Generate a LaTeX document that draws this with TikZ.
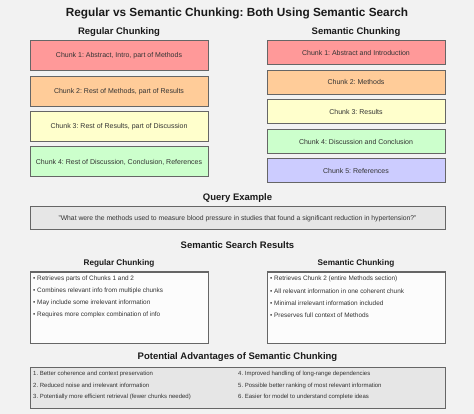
\documentclass[tikz,border=0pt]{standalone}
\usepackage{fontspec}
\setmainfont{Liberation Sans}
\definecolor{bg}{HTML}{F2F2F2}
\definecolor{bordc}{HTML}{666666}
\definecolor{txt}{HTML}{333333}
\definecolor{hdr}{HTML}{1A1A1A}
\definecolor{cred}{HTML}{FF9999}
\definecolor{corange}{HTML}{FFCC99}
\definecolor{cyellow}{HTML}{FFFFCC}
\definecolor{cgreen}{HTML}{CCFFCC}
\definecolor{cpurple}{HTML}{CCCCFF}
\definecolor{qfill}{HTML}{E6E6E6}
\definecolor{rfill}{HTML}{FCFCFC}
\frenchspacing
\begin{document}
\begin{tikzpicture}[x=1pt,y=-1pt,
  titletext/.style={font=\fontsize{11.8}{14}\selectfont\bfseries, text=hdr},
  headtext/.style={font=\fontsize{9.5}{11}\selectfont\bfseries, text=hdr},
  subhead/.style={font=\fontsize{8.2}{10}\selectfont\bfseries, text=hdr},
  chunkl/.style={draw=bordc, line width=1pt, minimum width=178pt, minimum height=30pt, inner sep=0pt, font=\fontsize{7}{8}\selectfont, text=txt},
  chunkr/.style={draw=bordc, line width=1pt, minimum width=178pt, minimum height=24pt, inner sep=0pt, font=\fontsize{7}{8}\selectfont, text=txt},
  resbox/.style={draw=bordc, line width=1pt, fill=rfill, minimum width=178pt, minimum height=71pt, inner sep=0pt},
  bullettext/.style={anchor=west, inner sep=0pt, font=\fontsize{6.4}{7.5}\selectfont, text=txt},
  advtext/.style={anchor=west, inner sep=0pt, font=\fontsize{6}{7}\selectfont, text=txt}]
\useasboundingbox[fill=bg] (0,0) rectangle (474,414);

\node[titletext] (title) at (237,13) {Regular vs Semantic Chunking: Both Using Semantic Search};

\node[headtext] (hreg) at (119,32) {Regular Chunking};
\node[headtext] (hsem) at (356,32) {Semantic Chunking};

\node[chunkl, fill=cred] (l1) at (119,56) {Chunk 1: Abstract, Intro, part of Methods};
\node[chunkl, fill=corange] (l2) at (119,91.5) {Chunk 2: Rest of Methods, part of Results};
\node[chunkl, fill=cyellow] (l3) at (119,127) {Chunk 3: Rest of Results, part of Discussion};
\node[chunkl, fill=cgreen] (l4) at (119,162) {Chunk 4: Rest of Discussion, Conclusion, References};

\node[chunkr, fill=cred] (r1) at (356,53) {Chunk 1: Abstract and Introduction};
\node[chunkr, fill=corange] (r2) at (356,82.5) {Chunk 2: Methods};
\node[chunkr, fill=cyellow] (r3) at (356,112) {Chunk 3: Results};
\node[chunkr, fill=cgreen] (r4) at (356,141.5) {Chunk 4: Discussion and Conclusion};
\node[chunkr, fill=cpurple] (r5) at (356,171) {Chunk 5: References};

\node[headtext] (hquery) at (237.5,198) {Query Example};
\node[draw=bordc, line width=1pt, fill=qfill, minimum width=415pt, minimum height=23pt, inner sep=0pt, font=\fontsize{6.8}{8}\selectfont, text=txt] (query) at (237.5,218.5) {"What were the methods used to measure blood pressure in studies that found a significant reduction in hypertension?"};

\node[headtext] (hres) at (237.5,245) {Semantic Search Results};
\node[subhead] (sreg) at (119,263) {Regular Chunking};
\node[subhead] (ssem) at (356,263) {Semantic Chunking};

\node[resbox] (resl) at (119,307.5) {};
\node[resbox] (resr) at (356,307.5) {};

\node[bullettext] (bl1) at (33,279) {• Retrieves parts of Chunks 1 and 2};
\node[bullettext] (bl2) at (33,291) {• Combines relevant info from multiple chunks};
\node[bullettext] (bl3) at (33,303) {• May include some irrelevant information};
\node[bullettext] (bl4) at (33,315) {• Requires more complex combination of info};

\node[bullettext] (br1) at (270,279) {• Retrieves Chunk 2 (entire Methods section)};
\node[bullettext] (br2) at (270,291) {• All relevant information in one coherent chunk};
\node[bullettext] (br3) at (270,303) {• Minimal irrelevant information included};
\node[bullettext] (br4) at (270,315) {• Preserves full context of Methods};

\node[headtext] (hadv) at (237.5,357) {Potential Advantages of Semantic Chunking};
\node[draw=bordc, line width=1pt, fill=qfill, minimum width=415pt, minimum height=41pt, inner sep=0pt] (adv) at (237.5,387.5) {};

\node[advtext] (a1) at (33,374) {1. Better coherence and context preservation};
\node[advtext] (a2) at (33,385.5) {2. Reduced noise and irrelevant information};
\node[advtext] (a3) at (33,397) {3. Potentially more efficient retrieval (fewer chunks needed)};
\node[advtext] (a4) at (238,374) {4. Improved handling of long-range dependencies};
\node[advtext] (a5) at (238,385.5) {5. Possible better ranking of most relevant information};
\node[advtext] (a6) at (238,397) {6. Easier for model to understand complete ideas};
\end{tikzpicture}
\end{document}
